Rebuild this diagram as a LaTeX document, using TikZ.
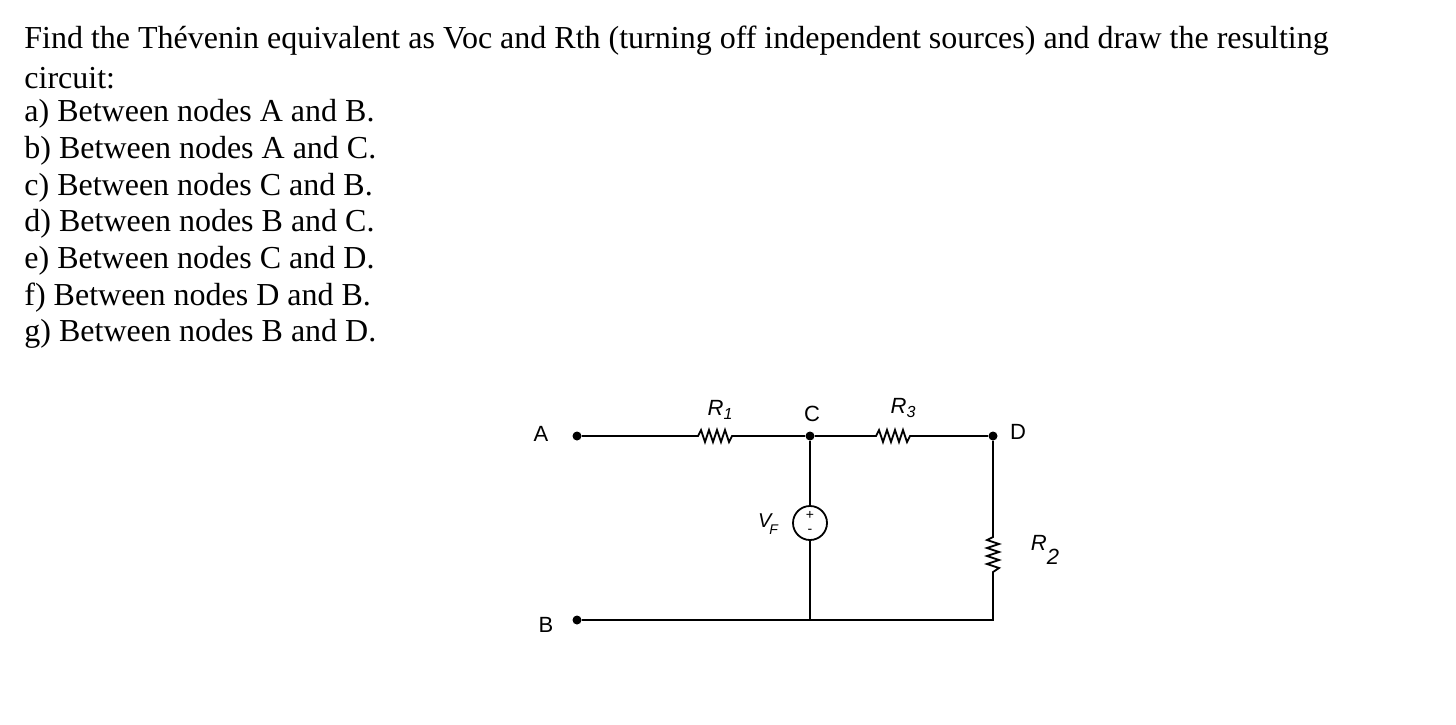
\documentclass[tikz,border=0pt]{standalone}
\usepackage{fontspec}
\setmainfont{Liberation Serif}
\newfontfamily\sans{Liberation Sans}
\begin{document}
\begin{tikzpicture}[x=0.5pt,y=-0.5pt,
  txt/.style={anchor=west,inner sep=0,font=\fontsize{16}{18}\selectfont},
  lab/.style={inner sep=0,font=\sans\fontsize{11}{13}\selectfont},
  dot/.style={circle,fill,inner sep=0,minimum size=4.5pt},
  w/.style={line width=0.9pt}]
\useasboundingbox (0,0) rectangle (1456,724);
\node[txt] (t1) at (24,41) {Find the Thévenin equivalent as Voc and Rth (turning off independent sources) and draw the resulting};
\node[txt] (t2) at (24,78) {circuit:};
\node[txt] (t3) at (24,114) {a) Between nodes A and B.};
\node[txt] (t4) at (24,151) {b) Between nodes A and C.};
\node[txt] (t5) at (24,188) {c) Between nodes C and B.};
\node[txt] (t6) at (24,224) {d) Between nodes B and C.};
\node[txt] (t7) at (24,261) {e) Between nodes C and D.};
\node[txt] (t8) at (24,298) {f) Between nodes D and B.};
\node[txt] (t9) at (24,334) {g) Between nodes B and D.};
% nodes
\node[dot] (A) at (577,436) {};
\node[dot] (C) at (810,436) {};
\node[dot] (D) at (993,436) {};
\node[dot] (B) at (577,620) {};
\coordinate (CB) at (810,620);
\coordinate (DB) at (993,620);
\node[lab] (lA) at (541,434) {A};
\node[lab] (lB) at (546,625) {B};
\node[lab] (lC) at (812,414) {C};
\node[lab] (lD) at (1018,432) {D};
\node[lab,font=\sans\itshape\fontsize{11}{13}\selectfont] (lR1) at (720,410) {R\raisebox{-0.3ex}{\footnotesize 1}};
\node[lab,font=\sans\itshape\fontsize{11}{13}\selectfont] (lR3) at (903,408) {R\raisebox{-0.3ex}{\footnotesize 3}};
\node[lab,font=\sans\itshape\fontsize{11}{13}\selectfont] (lR2) at (1045,550) {R\raisebox{-1.2ex}{2}};
\node[lab,font=\sans\itshape\fontsize{10}{12}\selectfont] (lV) at (768,524) {V\kern-0.1em\raisebox{-0.6ex}{\scriptsize F}};
\node[draw,circle,w,minimum size=17pt,inner sep=0] (VF) at (810,523) {};
\node[font=\sans\fontsize{7}{8}\selectfont,inner sep=0] (pl) at (810,515) {+};
\node[font=\sans\fontsize{7}{8}\selectfont,inner sep=0] (mn) at (810,531) {-};
% wires
\draw[w] (A) -- (698,436) -- (701,430) -- (705,442) -- (709,430) -- (713,442) -- (717,430) -- (721,442) -- (725,430) -- (729,442) -- (732,436) -- (C);
\draw[w] (C) -- (876,436) -- (879,430) -- (883,442) -- (887,430) -- (891,442) -- (895,430) -- (899,442) -- (903,430) -- (907,442) -- (910,436) -- (D);
\draw[w] (D) -- (993,537) -- (987,540) -- (999,544) -- (987,548) -- (999,552) -- (987,556) -- (999,560) -- (987,564) -- (999,568) -- (993,572) -- (DB) -- (CB) -- (B);
\draw[w] (C) -- (VF.north);
\draw[w] (VF.south) -- (CB);
\end{tikzpicture}
\end{document}
